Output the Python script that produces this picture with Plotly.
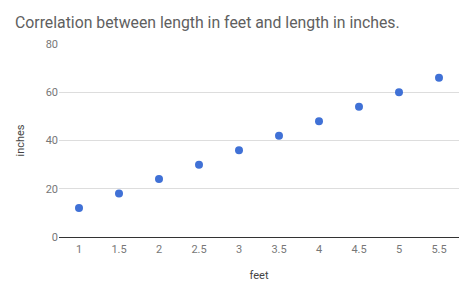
import plotly.graph_objects as go

feet = [1, 1.5, 2, 2.5, 3, 3.5, 4, 4.5, 5, 5.5]
inches = [12, 18, 24, 30, 36, 42, 48, 54, 60, 66]
x_ticks = [1, 1.5, 2, 2.5, 3, 3.5, 4, 4.5, 5, 5.5]
x_tick_text = ["1", "1.5", "2", "2.5", "3", "3.5", "4", "4.5", "5", "5.5"]
y_ticks = [0, 20, 40, 60, 80]

fig = go.Figure(go.Scatter(
    x=feet, y=inches, mode="markers",
    marker=dict(color="#4071d6", size=8, line=dict(width=0)),
    showlegend=False,
))

fig.update_layout(
    width=474, height=292,
    margin=dict(l=59, r=15, t=44, b=53),
    paper_bgcolor="white", plot_bgcolor="white",
    font=dict(family="Roboto, Arial, sans-serif", color="#777777", size=11),
    title=dict(text="Correlation between length in feet and length in inches.",
               x=15/474, xanchor="left", y=1-22/292, yanchor="middle",
               font=dict(size=15.8, color="#606060")),
    xaxis=dict(range=[0.75, 5.75], tickvals=x_ticks, ticktext=x_tick_text,
               showgrid=False, zeroline=False, showline=False,
               ticks="", ticklabelstandoff=4,
               title=dict(text="feet", standoff=16, font=dict(size=11, color="#444444")),
               tickfont=dict(size=11, color="#777777")),
    yaxis=dict(range=[0, 80], tickvals=y_ticks, showgrid=True, gridcolor="#dddddd",
               gridwidth=1, zeroline=True, zerolinecolor="#333333", zerolinewidth=1,
               ticks="", showline=False,
               title=dict(text="inches", standoff=18, font=dict(size=11, color="#444444")),
               tickfont=dict(size=11, color="#777777")),
)

fig.write_html("out.html")
